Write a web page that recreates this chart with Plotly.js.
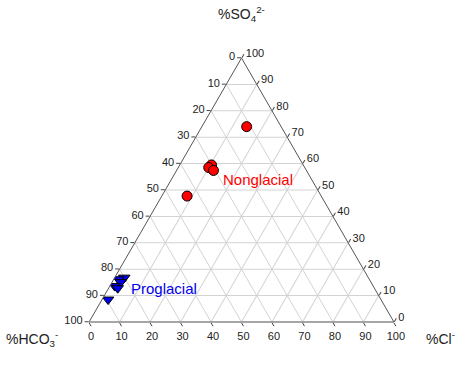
<!DOCTYPE html>
<html>
<head>
<meta charset="utf-8">
<script src="https://cdn.plot.ly/plotly-3.0.1.min.js"></script>
<style>html,body{margin:0;padding:0;background:#fff;}#chart{width:456px;height:368px;}</style>
</head>
<body>
<div id="chart"></div>
<script>
// Nonglacial samples (%SO4, %HCO3, %Cl)
var nonglacialSO4  = [74.0, 59.5, 58.5, 57.4, 47.7];
var nonglacialHCO3 = [11.3, 30.1, 31.5, 30.5, 44.0];
var nonglacialCl   = [14.7, 10.4, 10.0, 12.1, 8.3];
// Proglacial samples
var proglacialSO4  = [16.8, 16.2, 15.1, 13.6, 12.8, 8.5];
var proglacialHCO3 = [80.05, 82.3, 82.05, 84.8, 84.2, 89.5];
var proglacialCl   = [3.15, 1.5, 2.85, 1.6, 3.0, 2.0];
// Tick values and labels
var tickVals = [0,10,20,30,40,50,60,70,80,90,100];
var tickLabelsRev = tickVals.map(function(v){ return String(100 - v); });
// Axis titles
var titleSO4 = '%SO<sub>4</sub><sup>2-</sup>';
var titleHCO3 = '%HCO<sub>3</sub><sup>-</sup>';
var titleCl = '%Cl<sup>-</sup>';

var FONT = 'Liberation Sans, Arial, sans-serif';
var tickFont = {family: FONT, size: 11, color: '#222'};
var titleFont = {family: FONT, size: 14, color: '#222'};

function axis(lineColor, lineWidth) {
  return {
    title: {text: ''},
    min: 0,
    tickmode: 'array',
    tickvals: tickVals,
    ticktext: tickLabelsRev,
    tickfont: tickFont,
    ticks: 'outside',
    ticklen: 4,
    tickcolor: '#444',
    showgrid: true,
    gridcolor: '#d3d3d3',
    gridwidth: 1,
    linecolor: lineColor,
    linewidth: lineWidth,
    showline: true
  };
}

var traces = [
  {
    type: 'scatterternary', mode: 'markers', name: 'Nonglacial',
    a: nonglacialSO4, b: nonglacialHCO3, c: nonglacialCl,
    marker: {symbol: 'circle', size: 10, color: '#ff0000', line: {color: '#000', width: 1}}
  },
  {
    type: 'scatterternary', mode: 'markers', name: 'Proglacial',
    a: proglacialSO4, b: proglacialHCO3, c: proglacialCl,
    marker: {symbol: 'triangle-down', size: 10, color: '#0000ee', line: {color: '#000', width: 1}}
  }
];

function px(x) { return (x - 89) / 305; }
function py(y) { return (368 - 46 - y) / 264; }

var layout = {
  width: 456, height: 368,
  margin: {l: 89, r: 62, t: 58, b: 46},
  showlegend: false,
  paper_bgcolor: '#fff',
  font: {family: FONT},
  ternary: {
    sum: 100,
    bgcolor: '#fff',
    aaxis: axis('#555', 1),
    baxis: axis('#888', 1.5),
    caxis: axis('#555', 1)
  },
  annotations: [
    {xref: 'paper', yref: 'paper', x: px(241), y: py(14), xanchor: 'center', yanchor: 'middle',
     text: titleSO4, showarrow: false, font: titleFont},
    {xref: 'paper', yref: 'paper', x: px(4), y: py(339), xanchor: 'left', yanchor: 'middle',
     text: titleHCO3, showarrow: false, font: titleFont},
    {xref: 'paper', yref: 'paper', x: px(424), y: py(338), xanchor: 'left', yanchor: 'middle',
     text: titleCl, showarrow: false, font: titleFont},
    {xref: 'paper', yref: 'paper', x: px(221), y: py(179), xanchor: 'left', yanchor: 'middle',
     text: 'Nonglacial', showarrow: false, font: {family: FONT, size: 15, color: '#ff0000'}},
    {xref: 'paper', yref: 'paper', x: px(129), y: py(288), xanchor: 'left', yanchor: 'middle',
     text: 'Proglacial', showarrow: false, font: {family: FONT, size: 15, color: '#0000ee'}}
  ]
};

Plotly.newPlot('chart', traces, layout, {staticPlot: true, displayModeBar: false});
</script>
</body>
</html>
